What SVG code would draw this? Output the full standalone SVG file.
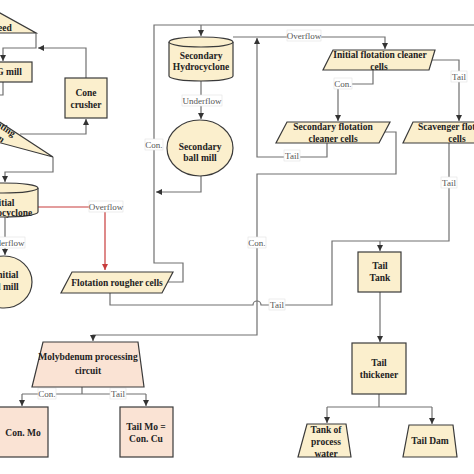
<svg xmlns="http://www.w3.org/2000/svg" width="474" height="474" viewBox="0 0 474 474">
<defs>
<style>
.n{fill:#fbefcd;stroke:#3a3a3a;stroke-width:1.2}
.m{fill:#fae3d4;stroke:#3a3a3a;stroke-width:1.2}
.t{font-family:"Liberation Serif",serif;font-size:9.5px;font-weight:bold;fill:#222;text-anchor:middle}
.l{font-family:"Liberation Serif",serif;font-size:9px;fill:#555;text-anchor:middle}
.lb{fill:#fff;stroke:#e2e2e2;stroke-width:0.6}
.c{fill:none;stroke:#707070;stroke-width:1.2}
.r{fill:none;stroke:#c83c3c;stroke-width:1.2}
</style>
<marker id="a" viewBox="0 0 10 10" refX="10" refY="5" markerWidth="6" markerHeight="6" markerUnits="userSpaceOnUse" orient="auto"><path d="M0,0 L10,5 L0,10 z" fill="#333"/></marker>
<marker id="ar" viewBox="0 0 10 10" refX="10" refY="5" markerWidth="6" markerHeight="6" markerUnits="userSpaceOnUse" orient="auto"><path d="M0,0 L10,5 L0,10 z" fill="#c83c3c"/></marker>
</defs>
<rect width="474" height="474" fill="#fff"/>

<g id="connectors">
<path class="c" d="M36,33 V48 H3 V61" marker-end="url(#a)"/>
<path class="c" d="M86,78 V48 H38" marker-end="url(#a)"/>
<path class="c" d="M3,82 V95 H-5"/>
<path class="c" d="M20,134 H86 V119" marker-end="url(#a)"/>
<path class="c" d="M53,157 V172 H5 V182" marker-end="url(#a)"/>
<path class="c" d="M5,217 V255" marker-end="url(#a)"/>
<path class="r" d="M38,207 H105 V270" marker-end="url(#ar)"/>
<path class="c" d="M167,282 H183 V263 H154 V25 H474"/>
<path class="c" d="M201,25 V36" marker-end="url(#a)"/>
<path class="c" d="M201,176 V192 H156" marker-end="url(#a)"/>
<path class="c" d="M201,81 V119" marker-end="url(#a)"/>
<path class="c" d="M233,37 H385 V49" marker-end="url(#a)"/>
<path class="c" d="M327,143 V157 H257 V38" marker-end="url(#a)"/>
<path class="c" d="M373,70 V84 H338 V121" marker-end="url(#a)"/>
<path class="c" d="M432,60 H459 V121" marker-end="url(#a)"/>
<path class="c" d="M385,132 H396 V174 H257 V335 H93 V341" marker-end="url(#a)"/>
<path class="c" d="M110,293 V305 H253 A4,4 0 0 1 261,305 H332 V241 H449 V143"/>
<path class="c" d="M380,241 V251" marker-end="url(#a)"/>
<path class="c" d="M380,292 V342" marker-end="url(#a)"/>
<path class="c" d="M379,394 V407 M327,407 H432"/>
<path class="c" d="M327,407 V423" marker-end="url(#a)"/>
<path class="c" d="M432,407 V424" marker-end="url(#a)"/>
<path class="c" d="M82,387 V394 M22,394 H146"/>
<path class="c" d="M22,394 V406" marker-end="url(#a)"/>
<path class="c" d="M146,394 V406" marker-end="url(#a)"/>
</g>

<g id="labels">
<rect class="lb" x="-15" y="237" width="40" height="11"/><text class="l" x="5" y="246">Underflow</text>
<rect class="lb" x="89" y="201" width="34" height="11"/><text class="l" x="106" y="210">Overflow</text>
<rect class="lb" x="182" y="95" width="40" height="11"/><text class="l" x="202" y="104">Underflow</text>
<rect class="lb" x="287" y="30" width="34" height="11"/><text class="l" x="304" y="39">Overflow</text>
<rect class="lb" x="145" y="139" width="18" height="11"/><text class="l" x="154" y="148">Con.</text>
<rect class="lb" x="334" y="78" width="18" height="11"/><text class="l" x="343" y="87">Con.</text>
<rect class="lb" x="451" y="71" width="16" height="11"/><text class="l" x="459" y="80">Tail</text>
<rect class="lb" x="284" y="150" width="16" height="11"/><text class="l" x="292" y="159">Tail</text>
<rect class="lb" x="441" y="177" width="16" height="11"/><text class="l" x="449" y="186">Tail</text>
<rect class="lb" x="248" y="237" width="18" height="11"/><text class="l" x="257" y="246">Con.</text>
<rect class="lb" x="269" y="299" width="16" height="11"/><text class="l" x="277" y="308">Tail</text>
<rect class="lb" x="38" y="388" width="18" height="11"/><text class="l" x="47" y="397">Con.</text>
<rect class="lb" x="110" y="388" width="16" height="11"/><text class="l" x="118" y="397">Tail</text>
</g>

<g id="feed"><polygon class="n" points="-40,33 36,33 -9,8"/><text class="t" x="2" y="31">Feed</text></g>
<g id="sag-mill"><rect class="n" x="-26" y="62" width="58" height="20"/><text class="t" x="3" y="75">SAG mill</text></g>
<g id="cone-crusher"><rect class="n" x="65" y="78" width="42" height="40"/><text class="t" x="86" y="96">Cone</text><text class="t" x="86" y="108">crusher</text></g>
<g id="screen"><polygon class="n" points="-40,96 53,157 -40,132"/>
<g transform="translate(13,137) rotate(33)"><text class="t" style="text-anchor:end" x="0" y="0">Vibrating</text><text class="t" style="text-anchor:end" x="-6" y="11">screen</text></g></g>
<g id="initial-hydrocyclone"><path class="n" d="M-32,188 V212 A35,5 0 0 0 38,212 V188"/><ellipse class="n" cx="3" cy="188" rx="35" ry="5"/><text class="t" x="2" y="206">Initial</text><text class="t" x="4" y="216">Hydrocyclone</text></g>
<g id="initial-ball-mill"><ellipse class="n" cx="4" cy="282" rx="28" ry="26"/><text class="t" x="6" y="278">Initial</text><text class="t" x="2" y="290">ball mill</text></g>
<g id="flotation-rougher"><polygon class="n" points="72,272 173,272 162,293 61,293"/><text class="t" x="117" y="286">Flotation rougher cells</text></g>
<g id="secondary-hydrocyclone"><path class="n" d="M169,42 V76 A32,5 0 0 0 233,76 V42"/><ellipse class="n" cx="201" cy="42" rx="32" ry="5"/><text class="t" x="201" y="59">Secondary</text><text class="t" x="201" y="70">Hydrocyclone</text></g>
<g id="secondary-ball-mill"><ellipse class="n" cx="200" cy="148" rx="33" ry="28"/><text class="t" x="200" y="150">Secondary</text><text class="t" x="200" y="161">ball mill</text></g>
<g id="initial-cleaner"><polygon class="n" points="333,50 435,50 429,70 323,70"/><text class="t" x="380" y="58">Initial flotation cleaner</text><text class="t" x="379" y="70">cells</text></g>
<g id="secondary-cleaner"><polygon class="n" points="287,122 390,122 379,143 276,143"/><text class="t" x="333" y="130">Secondary flotation</text><text class="t" x="333" y="142">cleaner cells</text></g>
<g id="scavenger"><polygon class="n" points="413,122 520,122 510,143 403,143"/><text class="t" x="457" y="130">Scavenger flotation</text><text class="t" x="457" y="142">cells</text></g>
<g id="tail-tank"><rect class="n" x="358" y="252" width="43" height="40"/><text class="t" x="380" y="269">Tail</text><text class="t" x="380" y="281">Tank</text></g>
<g id="tail-thickener"><rect class="n" x="352" y="343" width="54" height="51"/><text class="t" x="379" y="366">Tail</text><text class="t" x="379" y="378">thickener</text></g>
<g id="process-water"><polygon class="n" points="307,424 346,424 351,457 298,457"/><text class="t" x="326" y="433">Tank of</text><text class="t" x="326" y="445">process</text><text class="t" x="326" y="457">water</text></g>
<g id="tail-dam"><polygon class="n" points="409,425 453,425 457,457 403,457"/><text class="t" x="430" y="444">Tail Dam</text></g>
<g id="molybdenum"><polygon class="m" points="43,342 138,342 144,387 32,387"/><text class="t" x="88" y="360">Molybdenum processing</text><text class="t" x="88" y="374">circuit</text></g>
<g id="con-mo"><rect class="m" x="-4" y="407" width="52" height="50"/><text class="t" x="23" y="436">Con. Mo</text></g>
<g id="tail-mo"><rect class="m" x="120" y="407" width="53" height="50"/><text class="t" x="146" y="430">Tail Mo =</text><text class="t" x="146" y="442">Con. Cu</text></g>
</svg>
